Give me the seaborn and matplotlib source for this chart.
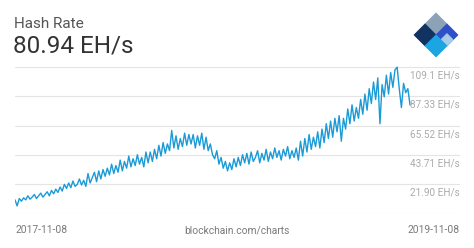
import numpy as np
import pandas as pd
import matplotlib
matplotlib.use("Agg")
import matplotlib.pyplot as plt
import seaborn as sns
from matplotlib.patches import Polygon
from matplotlib.transforms import blended_transform_factory

# ---- data ----
start_label = "2017-11-08"
end_label = "2019-11-08"
source_label = "blockchain.com/charts"
title = "Hash Rate"
current_value = "80.94 EH/s"

hash_rate_late_2017_2018 = [
    10.5, 6.0, 11.5, 9.5, 12, 10.5, 13.5, 11, 12.5, 14.5, 11.5, 13.5, 15.5, 12.5, 14.5, 16.5, 13.5, 17.5, 15, 18.5, 16, 20,
    17, 22, 19, 23, 19.5, 24.5, 20.5, 22, 26, 21.5, 25, 20.5, 30, 23, 27, 31, 24, 32,
    26, 33, 28, 34, 29, 37, 30, 36, 31, 40, 32, 39, 34, 43,
    35, 41, 36, 44, 37, 42, 35, 46, 38,
    46, 39, 48, 41, 51, 43, 53, 45, 52,
    47, 62, 49, 58, 48, 56, 50, 60, 51, 59,
    52, 59, 49, 58, 51, 60, 48, 57, 47, 52, 44,
]
hash_rate_winter_2018 = [
    41, 47, 37, 42, 34, 39,
    32, 38, 33, 41, 35, 42,
    36, 44, 38, 45, 37, 46, 39, 42, 47, 38, 45, 40, 48, 39, 46, 41, 49, 42, 47, 40, 48, 43, 50, 41, 47, 42, 49,
]
hash_rate_2019 = [
    40, 54, 43, 56, 46, 59, 48, 57, 50, 61,
    49, 63, 53, 67, 56, 69, 57, 71, 61,
    73, 54, 71, 63, 78, 67, 81, 69, 79,
    71, 85, 74, 89, 77, 93, 82,
    98, 85, 101, 67, 96, 87, 103,
    89, 105, 94, 107, 109, 93, 79, 97, 90, 93, 80.94,
]
tick_values = [0.0, 21.90, 43.71, 65.52, 87.33, 109.1]
tick_labels = ["", "21.90 EH/s", "43.71 EH/s", "65.52 EH/s", "87.33 EH/s", "109.1 EH/s"]

values = hash_rate_late_2017_2018 + hash_rate_winter_2018 + hash_rate_2019
dates = pd.date_range(start_label, end_label, periods=len(values))
df = pd.DataFrame({"date": dates, "hash": values})

# ---- figure ----
sns.set_theme(style="white")
plt.rcParams["font.family"] = ["Roboto", "DejaVu Sans"]

W, H = 474, 248
fig = plt.figure(figsize=(W / 100, H / 100), dpi=100)
ax_left, ax_right = 15, 460
ax_top, ax_bot = 62, 214
ax = fig.add_axes([ax_left / W, 1 - ax_bot / H, (ax_right - ax_left) / W, (ax_bot - ax_top) / H])

line_color = "#1a9ad6"
sns.lineplot(data=df, x="date", y="hash", ax=ax, color=line_color, linewidth=1.0)

data_px = 410 - ax_left
span_days = (dates[-1] - dates[0]).days
extra_days = span_days * (ax_right - 410) / data_px
ax.set_xlim(dates[0], dates[-1] + pd.Timedelta(days=extra_days))
ymax = tick_values[-1] * (ax_bot - ax_top) / (ax_bot - 67)
ax.set_ylim(0, ymax)

for v in tick_values:
    ax.axhline(v, color="#e4e4e4", linewidth=0.8, zorder=0)

trans = blended_transform_factory(ax.transAxes, ax.transData)
px_per_unit = (ax_bot - 67) / tick_values[-1]
for v, lab in zip(tick_values, tick_labels):
    if lab:
        ax.text(1.0, v - 3.5 / px_per_unit, lab, transform=trans, ha="right", va="top",
                fontsize=7.2, color="#ababab")

ax.set_xticks([])
ax.set_yticks([])
ax.set_xlabel("")
ax.set_ylabel("")
for s in ax.spines.values():
    s.set_visible(False)
ax.patch.set_alpha(0)

# bottom labels
fig.text(15 / W, 1 - 230 / H, start_label, ha="left", va="center", fontsize=7.4, color="#7a7a7a")
fig.text(237 / W, 1 - 230 / H, source_label, ha="center", va="center", fontsize=7.4, color="#7a7a7a")
fig.text(460 / W, 1 - 230 / H, end_label, ha="right", va="center", fontsize=7.4, color="#7a7a7a")

# titles
fig.text(14 / W, 1 - 23.5 / H, title, ha="left", va="center", fontsize=11, color="#555555")
fig.text(13 / W, 1 - 46.5 / H, current_value, ha="left", va="center", fontsize=17.5, color="#333333")

# logo (rotated square)
L = 31.0
top = np.array([436.0, 13.0])
eu = np.array([1, 1]) / np.sqrt(2)
ev = np.array([-1, 1]) / np.sqrt(2)

def quad(u0, u1, v0, v1):
    pts = [top + u * L * eu + v * L * ev for u, v in [(u0, v0), (u1, v0), (u1, v1), (u0, v1)]]
    return [(p[0] / W, 1 - p[1] / H) for p in pts]

pieces = [
    ((0, 0.5, 0, 0.5), "#8ca3b7"),
    ((0, 0.5, 0.5, 1), "#123262"),
    ((0.5, 1, 0, 0.5), "#2f4fc6"),
    ((0.72, 1, 0.22, 0.5), "#a9cbe6"),
    ((0.5, 1, 0.5, 1), "#1ba5e3"),
]
for (u0, u1, v0, v1), c in pieces:
    fig.add_artist(Polygon(quad(u0, u1, v0, v1), closed=True, transform=fig.transFigure,
                           facecolor=c, edgecolor=c, linewidth=0.6, joinstyle="round"))

fig.savefig("out.png", dpi=100)
